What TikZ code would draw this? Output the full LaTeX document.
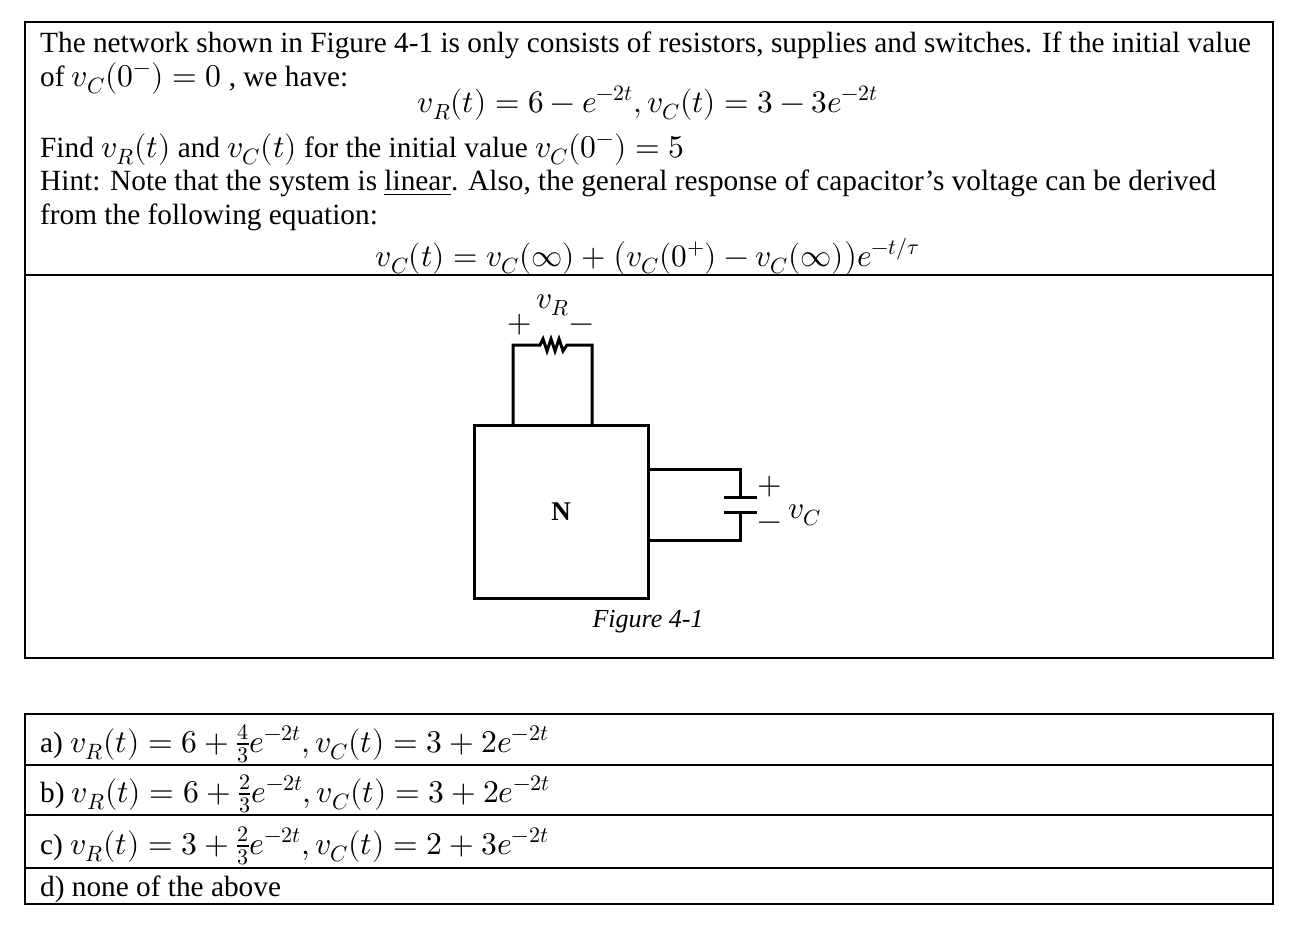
\documentclass[tikz,border=0pt]{standalone}
\usepackage{amsmath}
\usepackage{unicode-math}
\setmainfont{Liberation Serif}
\setmathfont{Latin Modern Math}[Scale=1.08]
\tikzset{txt/.style={anchor=base west,inner sep=0pt,font=\fontsize{29.3}{32}\selectfont},
ctxt/.style={anchor=base,inner sep=0pt,font=\fontsize{29}{32}\selectfont},
wire/.style={line width=3pt}}
\begin{document}
\begin{tikzpicture}[x=1pt,y=-1pt]
\useasboundingbox (0,0) rectangle (1312,926);
\draw[line width=1.2pt] (25,22) rectangle (1273,658);
\draw[line width=1.2pt] (25,275) -- (1273,275);
\node[txt] (l1) at (40,52) {The network shown in Figure 4-1 is only consists of resistors, supplies and switches. If the initial value};
\node[txt] (l2) at (40,86) {of $v_C(0^-)=0$ , we have:};
\node[ctxt] (l3) at (648,112) {$v_R(t)=6-e^{-2t}, v_C(t)=3-3e^{-2t}$};
\node[txt] (l4) at (40,157) {Find $v_R(t)$ and $v_C(t)$ for the initial value $v_C(0^-)=5$};
\node[txt] (l5) at (40,190) {Hint: Note that the system is \underline{linear}. Also, the general response of capacitor’s voltage can be derived};
\node[txt] (l6) at (40,224) {from the following equation:};
\node[ctxt] (l7) at (648,266) {$v_C(t)=v_C(\infty)+\bigl(v_C(0^+)-v_C(\infty)\bigr)e^{-t/\tau}$};
% circuit
\node[draw,wire,minimum width=174pt,minimum height=173pt,font=\fontsize{27}{30}\selectfont\bfseries] (N) at (561,512) {N};
\draw[wire] (513,425) -- (513,345) -- (540,345) -- (543,339) -- (547,351) -- (551,339) -- (555,351) -- (559,339) -- (563,351) -- (567,345) -- (592,345) -- (592,425);
\draw[wire] (648,469) -- (740,469) -- (740,497);
\draw[wire] (648,540) -- (740,540) -- (740,512);
\draw[wire] (724,497) -- (757,497);
\draw[wire] (724,512) -- (757,512);
\node[ctxt] (vr) at (553,308) {$v_R$};
\node[ctxt] (rp) at (520,332) {$+$};
\node[ctxt] (rm) at (582,332) {$-$};
\node[ctxt] (cp) at (770,494) {$+$};
\node[ctxt] (cm) at (770,530) {$-$};
\node[ctxt] (vc) at (805,518) {$v_C$};
\node[ctxt,font=\fontsize{26}{30}\selectfont\itshape] (fig) at (648,627) {Figure 4-1};
% options
\draw[line width=1.2pt] (25,714) rectangle (1273,904);
\foreach \y in {765,815,868} \draw[line width=1.2pt] (25,\y) -- (1273,\y);
\node[txt] (a) at (40,752) {a) $v_R(t)=6+\tfrac{4}{3}e^{-2t}, v_C(t)=3+2e^{-2t}$};
\node[txt] (b) at (40,802) {b) $v_R(t)=6+\tfrac{2}{3}e^{-2t}, v_C(t)=3+2e^{-2t}$};
\node[txt] (c) at (40,854) {c) $v_R(t)=3+\tfrac{2}{3}e^{-2t}, v_C(t)=2+3e^{-2t}$};
\node[txt] (d) at (40,896) {d) none of the above};
\end{tikzpicture}
\end{document}
